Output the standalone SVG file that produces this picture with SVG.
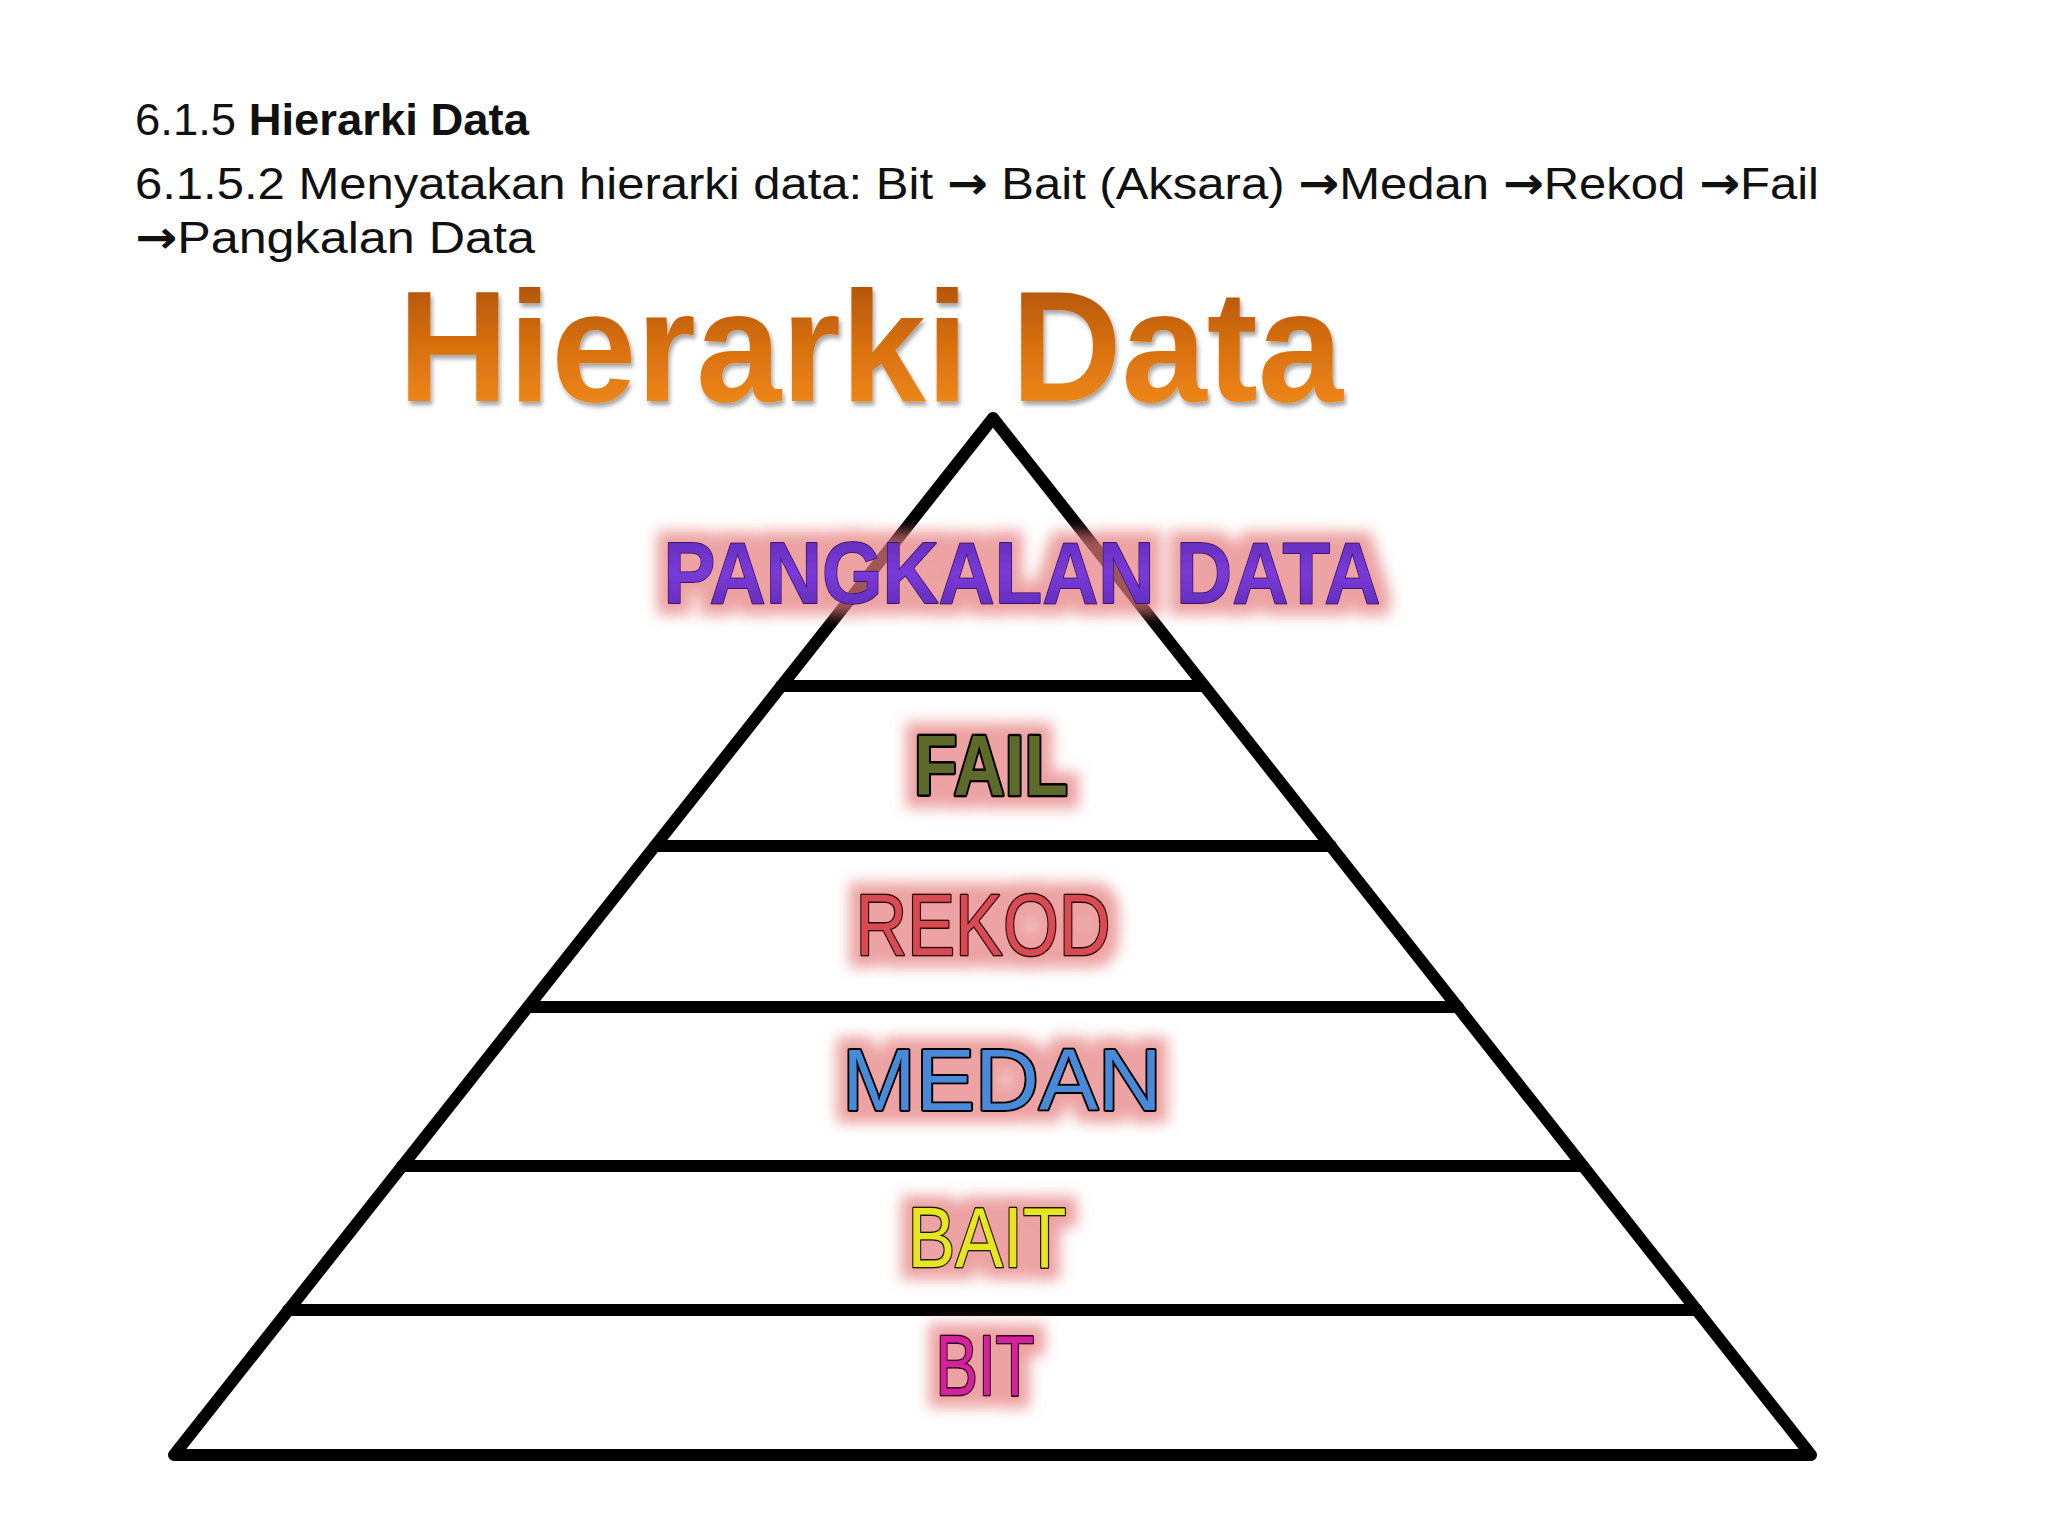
<svg xmlns="http://www.w3.org/2000/svg" width="2048" height="1536" viewBox="0 0 2048 1536">
  <defs>
    <linearGradient id="orange" x1="0" y1="0" x2="0" y2="1">
      <stop offset="0" stop-color="#a44a05"/>
      <stop offset="0.5" stop-color="#d8700f"/>
      <stop offset="1" stop-color="#f7921f"/>
    </linearGradient>
    <linearGradient id="purple" x1="0" y1="0" x2="0" y2="1">
      <stop offset="0" stop-color="#5a28b0"/>
      <stop offset="0.5" stop-color="#7a3ad8"/>
      <stop offset="1" stop-color="#5a28b0"/>
    </linearGradient>
    <filter id="glow" x="-25%" y="-50%" width="150%" height="200%">
      <feMorphology in="SourceAlpha" operator="dilate" radius="11" result="d"/>
      <feGaussianBlur in="d" stdDeviation="7" result="b"/>
      <feFlood flood-color="#e57a7a" flood-opacity="0.7"/>
      <feComposite in2="b" operator="in" result="g"/>
      <feMerge>
        <feMergeNode in="g"/>
        <feMergeNode in="SourceGraphic"/>
      </feMerge>
    </filter>
    <filter id="shadow" x="-10%" y="-20%" width="120%" height="140%">
      <feGaussianBlur in="SourceAlpha" stdDeviation="2" result="b"/>
      <feOffset in="b" dx="2" dy="4" result="o"/>
      <feFlood flood-color="#000" flood-opacity="0.35"/>
      <feComposite in2="o" operator="in" result="s"/>
      <feMerge>
        <feMergeNode in="s"/>
        <feMergeNode in="SourceGraphic"/>
      </feMerge>
    </filter>
  </defs>
  <style>
    .hdr { font-family: "Liberation Sans", Arial, sans-serif; font-size: 45px; fill: #111; }
    .arr { font-family: "DejaVu Sans", sans-serif; font-weight: bold; }
    .title { font-family: "Liberation Sans", Arial, sans-serif; font-weight: bold; font-size: 158px; fill: url(#orange); }
    .lbl { font-family: "Liberation Sans", Arial, sans-serif; text-anchor: middle; filter: url(#glow); stroke-linejoin: round; paint-order: stroke fill; }
    .tri { fill: none; stroke: #000; stroke-width: 12; stroke-linejoin: round; stroke-linecap: round; }
  </style>
  <rect width="2048" height="1536" fill="#ffffff"/>

  <g id="header">
    <text class="hdr" x="135" y="135" textLength="394" lengthAdjust="spacingAndGlyphs">6.1.5 <tspan font-weight="bold">Hierarki Data</tspan></text>
    <text class="hdr" x="135" y="199" textLength="1684" lengthAdjust="spacingAndGlyphs">6.1.5.2 Menyatakan hierarki data: Bit <tspan class="arr">→</tspan> Bait (Aksara)  <tspan class="arr">→</tspan>Medan <tspan class="arr">→</tspan>Rekod <tspan class="arr">→</tspan>Fail</text>
    <text class="hdr" x="135" y="253" textLength="400" lengthAdjust="spacingAndGlyphs"><tspan class="arr">→</tspan>Pangkalan Data</text>
  </g>

  <g id="title" filter="url(#shadow)">
    <text class="title" x="398" y="401" textLength="945" lengthAdjust="spacingAndGlyphs">Hierarki Data</text>
  </g>

  <g id="connectors">
    <polygon class="tri" points="993,418 1811,1455 174,1455"/>
    <line class="tri" x1="781" y1="686" x2="1204" y2="686"/>
    <line class="tri" x1="655" y1="846" x2="1331" y2="846"/>
    <line class="tri" x1="528" y1="1007" x2="1458" y2="1007"/>
    <line class="tri" x1="402" y1="1166" x2="1583" y2="1166"/>
    <line class="tri" x1="288" y1="1310" x2="1697" y2="1310"/>
  </g>

  <g id="pangkalan-data">
    <text class="lbl" x="1022" y="603" font-size="88" font-weight="bold" fill="url(#purple)" stroke="#3a1670" stroke-width="2" textLength="717" lengthAdjust="spacingAndGlyphs">PANGKALAN DATA</text>
  </g>
  <g id="fail">
    <text class="lbl" x="991" y="795" font-size="86" font-weight="bold" fill="#5b6a2c" stroke="#000" stroke-width="5" textLength="154" lengthAdjust="spacingAndGlyphs">FAIL</text>
  </g>
  <g id="rekod">
    <text class="lbl" x="983" y="955" font-size="88" fill="#d84c52" stroke="#2a0505" stroke-width="3" textLength="255" lengthAdjust="spacingAndGlyphs">REKOD</text>
  </g>
  <g id="medan">
    <text class="lbl" x="1002" y="1110" font-size="88" fill="#4a8ad8" stroke="#000" stroke-width="4" textLength="320" lengthAdjust="spacingAndGlyphs">MEDAN</text>
  </g>
  <g id="bait">
    <text class="lbl" x="987" y="1267" font-size="86" fill="#e6e624" stroke="#1a1a00" stroke-width="3" textLength="159" lengthAdjust="spacingAndGlyphs">BAIT</text>
  </g>
  <g id="bit">
    <text class="lbl" x="985" y="1395" font-size="86" fill="#d4229c" stroke="#2a0020" stroke-width="3" textLength="99" lengthAdjust="spacingAndGlyphs">BIT</text>
  </g>
</svg>
